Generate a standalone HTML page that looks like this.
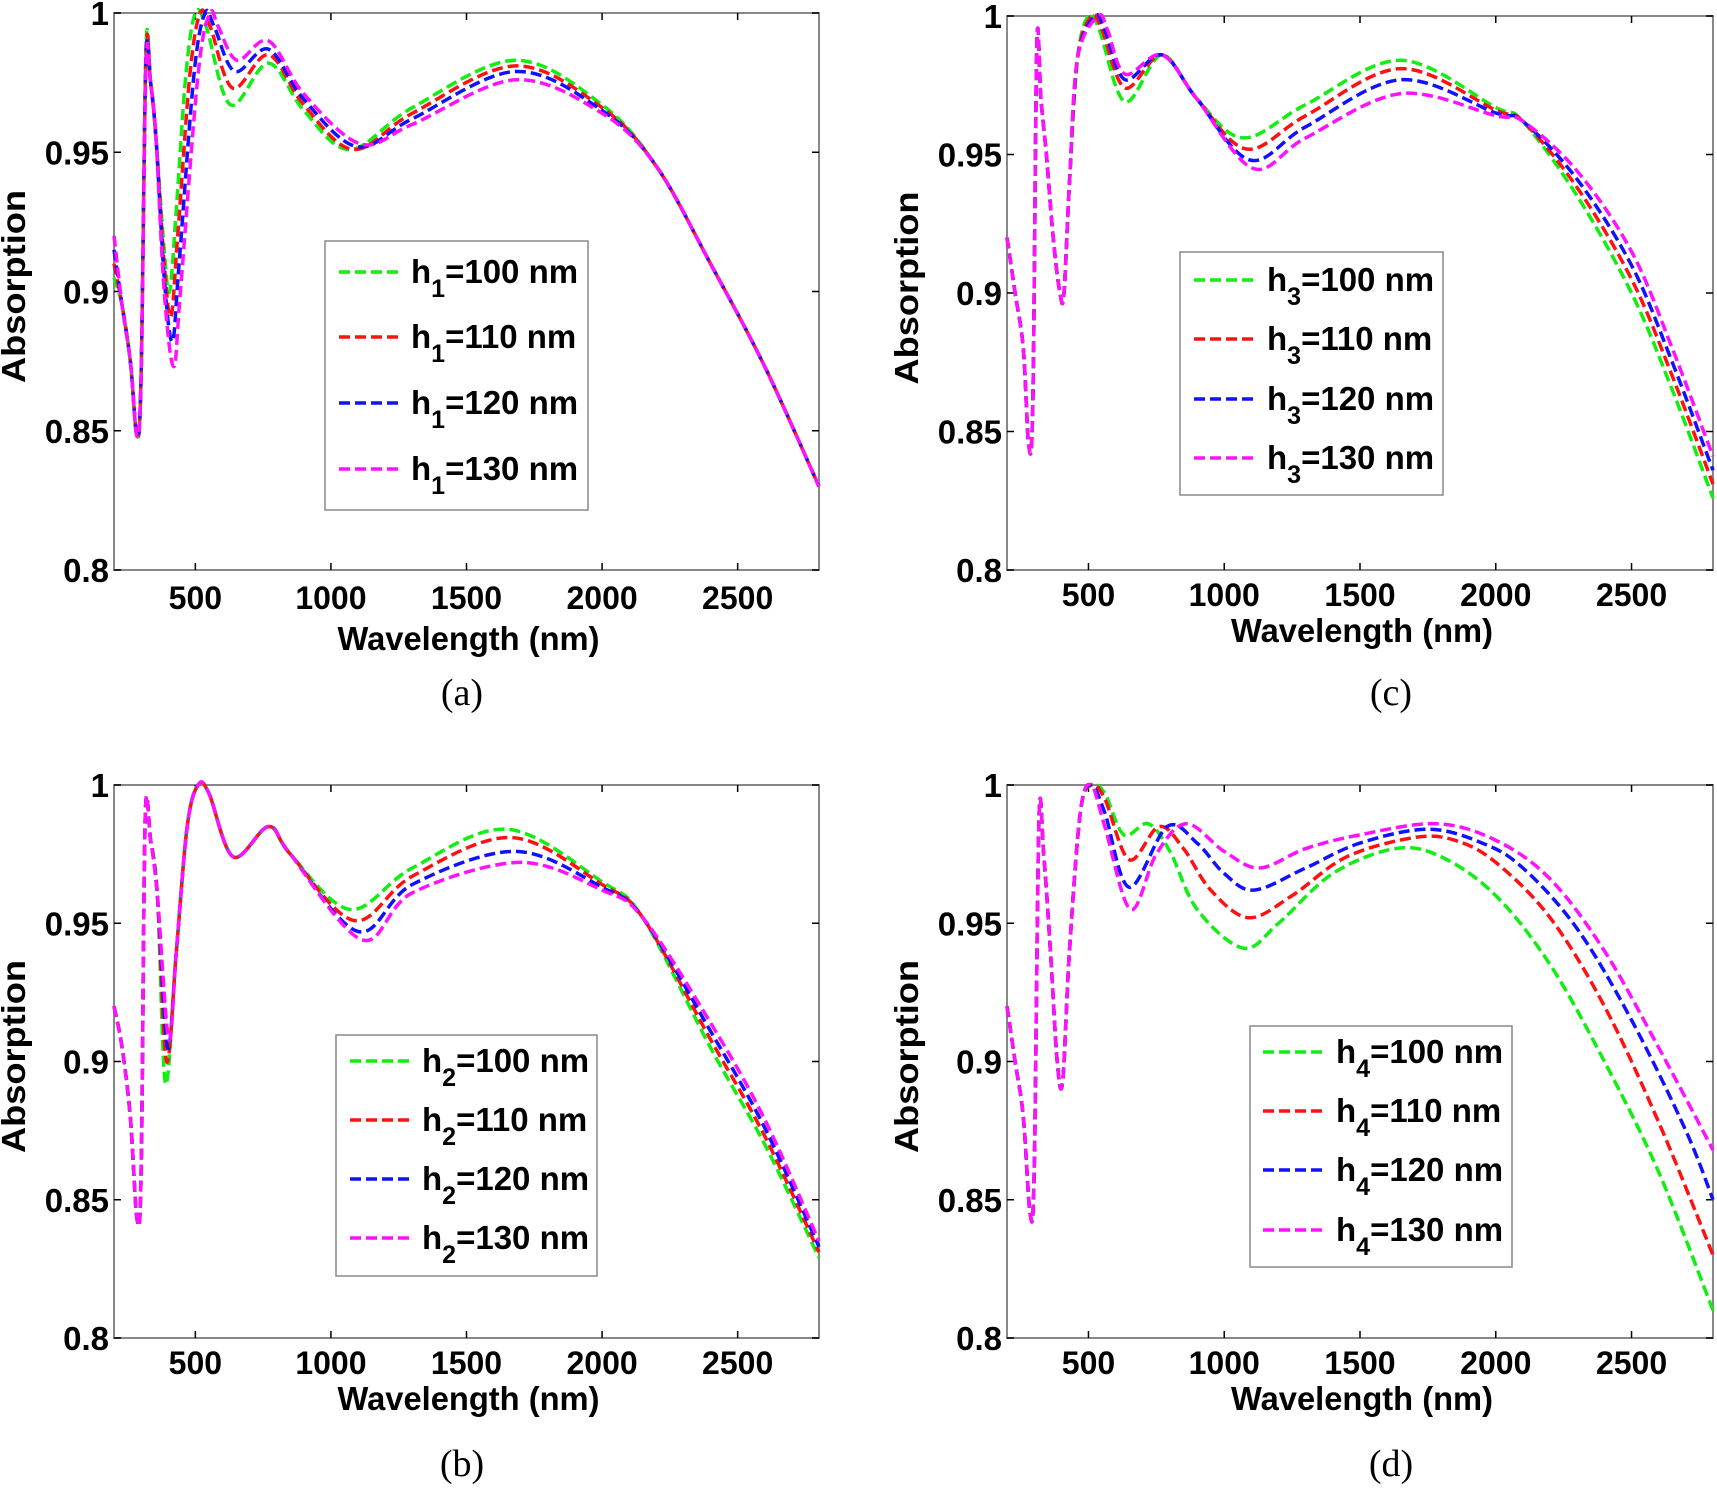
<!DOCTYPE html>
<html><head><meta charset="utf-8"><style>
html,body{margin:0;padding:0;background:#fff}
svg text{font-family:"Liberation Sans",Arial,sans-serif;font-weight:bold;fill:#000}
</style></head><body>
<svg id="s" width="1717" height="1485" viewBox="0 0 1717 1485" xmlns="http://www.w3.org/2000/svg"></svg>
<script>
const S=document.getElementById('s');let out='';
const P={a:[114,13,819,570],c:[1007,16,1713,570],b:[114,785,819,1338],d:[1007,785,1713,1338]};
const cols=['#11ee11','#ff1111','#1111ff','#ff11ff'];
function X(p,w){return p[0]+(w-200)/2600*(p[2]-p[0]);}
function Y(p,a){return p[3]-(a-0.8)/0.2*(p[3]-p[1]);}
function path(p,pts){const q=pts.map(t=>[X(p,t[0]),Y(p,t[1])]);let d='M'+q[0][0].toFixed(1)+','+q[0][1].toFixed(1);
for(let i=0;i<q.length-1;i++){const p0=q[Math.max(0,i-1)],p1=q[i],p2=q[i+1],p3=q[Math.min(q.length-1,i+2)];
const c1=[p1[0]+(p2[0]-p0[0])/6,p1[1]+(p2[1]-p0[1])/6],c2=[p2[0]-(p3[0]-p1[0])/6,p2[1]-(p3[1]-p1[1])/6];
d+='C'+c1[0].toFixed(1)+','+c1[1].toFixed(1)+' '+c2[0].toFixed(1)+','+c2[1].toFixed(1)+' '+p2[0].toFixed(1)+','+p2[1].toFixed(1);}return d;}
function axes(p,key,cap,capx,off,legBox,legY,lineX,textX,sub){
const [l,t,r,b]=p;
out+=`<rect x="${l}" y="${t}" width="${r-l}" height="${b-t}" fill="none" stroke="#888" stroke-width="2"/>`;
[500,1000,1500,2000,2500].forEach(w=>{const x=X(p,w);out+=`<line x1="${x}" y1="${b}" x2="${x}" y2="${b-7}" stroke="#000" stroke-width="1.5"/><line x1="${x}" y1="${t}" x2="${x}" y2="${t+7}" stroke="#000" stroke-width="1.5"/><text x="${x}" y="${b+39-off[0]}" font-size="32" text-anchor="middle">${w}</text>`;});
[[0.8,'0.8'],[0.85,'0.85'],[0.9,'0.9'],[0.95,'0.95'],[1,'1']].forEach(v=>{const y=Y(p,v[0]);out+=`<line x1="${l}" y1="${y}" x2="${l+7}" y2="${y}" stroke="#000" stroke-width="1.5"/><line x1="${r}" y1="${y}" x2="${r-7}" y2="${y}" stroke="#000" stroke-width="1.5"/><text x="${l-5}" y="${y+12}" font-size="33" text-anchor="end">${v[1]}</text>`;});
out+=`<text x="${(l+r)/2+2}" y="${b+80-off[1]}" font-size="33" text-anchor="middle" textLength="262" lengthAdjust="spacingAndGlyphs">Wavelength (nm)</text>`;
out+=`<text transform="translate(${l-89},${(t+b)/2-5}) rotate(-90)" x="0" y="0" font-size="33" text-anchor="middle" textLength="193" lengthAdjust="spacingAndGlyphs">Absorption</text>`;
out+=`<text x="${capx}" y="${cap}" font-size="38" text-anchor="middle" style="font-family:'Liberation Serif',serif;font-weight:normal">(${key})</text>`;
KEY=[key,legBox,legY,lineX,textX,sub];
}
function legend(){const [key,bx,ly,lx,tx,sub]=KEY;
out+=`<rect x="${bx[0]}" y="${bx[1]}" width="${bx[2]-bx[0]}" height="${bx[3]-bx[1]}" fill="#fff" stroke="#888" stroke-width="1.5"/>`;
['100','110','120','130'].forEach((v,i)=>{const y=ly[i];out+=`<line x1="${lx[0]}" y1="${y}" x2="${lx[1]}" y2="${y}" stroke="${cols[i]}" stroke-width="3.5" stroke-dasharray="11,5"/><text x="${tx}" y="${y+11}" font-size="33">h<tspan font-size="25" dy="14">${sub}</tspan><tspan dy="-14">=${v} nm</tspan></text>`;});}
function curves(p,arr){arr.forEach((pts,i)=>{out+=`<path d="${path(p,pts)}" fill="none" stroke="${cols[i]}" stroke-width="3.5" stroke-dasharray="11,5"/>`;});}
let KEY;
let A=[];for(let k=0;k<4;k++){A.push([[200,0.905+0.005*k],[230,0.895],[260,0.875],[285,0.848],[300,0.87],[318,0.988-0.002*k],[335,0.975],[355,0.955],[385,0.915-0.005*k],[405+5*k,0.9-0.009*k],[430+5*k,0.93-0.01*k],[465+15*k,0.978],[500+18*k,1.0],[540+15*k,0.995],[630+8*k,[0.967,0.973,0.979,0.983][k]],[770,[0.982,0.985,0.987,0.99][k]],[900,0.965+0.002*k],[1070+13*k,[0.951,0.951,0.952,0.953][k]],[1300,0.966-0.002*k],[1680,[0.983,0.981,0.979,0.976][k]],[2000,0.967-0.001*k],[2200,0.945],[2400,0.91],[2600,0.873],[2800,0.83]]);}
axes(P.a,'a',705,462,[0,0],[325,241,588,510],[272,337,403,469],[339,403],411,'1');curves(P.a,A);legend();
let C=[];for(let k=0;k<4;k++){C.push([[200,0.92],[230,0.9],[260,0.88],[280,0.845],[295,0.86],[310,0.99],[325,0.97],[345,0.95],[370,0.92],[395,0.9],[410,0.9],[430,0.94],[460,0.985],[500+12*k,1.0],[540+10*k,0.995],[635,[0.969,0.974,0.977,0.979][k]],[770,0.986],[900,0.97],[1070+12*k,[0.956,0.952,0.948,0.945][k]],[1300,0.968-0.004*k],[1650,[0.984,0.981,0.977,0.972][k]],[2000,0.967-0.001*k],[2100,0.962],[2300,0.935+0.003*k],[2500,0.9+0.005*k],[2650,0.865+0.005*k],[2800,0.826+0.005*k]]);}
axes(P.c,'c',705,1391,[3,8],[1180,252,1443,495],[280,339,399,458],[1194,1257],1267,'3');curves(P.c,C);legend();
let B=[];for(let k=0;k<4;k++){B.push([[200,0.92],[230,0.905],[260,0.88],[285,0.843],[300,0.86],[315,0.988],[335,0.98],[360,0.96],[390+4*k,[0.892,0.9,0.905,0.908][k]],[430,0.94],[470,0.985],[510,1.0],[550,0.997],[640,0.974],[770,0.985],[850,0.975],[1070+15*k,[0.955,0.951,0.947,0.944][k]],[1300,0.97-0.003*k],[1650+15*k,[0.984,0.981,0.976,0.972][k]],[2000,0.965-0.001*k],[2150,0.952],[2400,0.905+0.003*k],[2600,0.87+0.003*k],[2800,0.829+0.002*k]]);}
axes(P.b,'b',1476,462,[3,8],[336,1035,597,1276],[1061,1120,1179,1238],[350,414],422,'2');curves(P.b,B);legend();
const pre=[[200,0.92],[230,0.9],[260,0.88],[285,0.845],[300,0.86],[318,0.988],[335,0.975],[360,0.94],[385,0.9],[405,0.893],[430,0.94],[470,0.99],[510,1.0]];
const D=[pre.concat([[560,0.997],[630,0.982],[720,0.986],[800,0.976],[900,0.955],[1070,0.941],[1200,0.95],[1400,0.968],[1630,0.977],[1800,0.974],[2000,0.96],[2200,0.935],[2400,0.9],[2600,0.86],[2800,0.81]]),
pre.concat([[560,0.995],[650,0.973],[760,0.985],[850,0.977],[950,0.962],[1090,0.952],[1250,0.96],[1450,0.974],[1700,0.981],[1850,0.98],[2000,0.972],[2200,0.952],[2400,0.92],[2600,0.878],[2800,0.83]]),
pre.concat([[560,0.99],[650,0.963],[790,0.985],[900,0.979],[1000,0.968],[1110,0.962],[1300,0.97],[1500,0.979],[1750,0.984],[1950,0.979],[2100,0.97],[2300,0.948],[2500,0.915],[2700,0.875],[2800,0.85]]),
pre.concat([[560,0.985],[655,0.955],[750,0.975],[860,0.986],[1000,0.976],[1130,0.97],[1300,0.977],[1500,0.982],[1780,0.986],[2000,0.98],[2200,0.966],[2400,0.94],[2600,0.905],[2800,0.868]])];
axes(P.d,'d',1476,1391,[3,8],[1250,1026,1512,1267],[1052,1111,1170,1230],[1263,1327],1336,'4');curves(P.d,D);legend();
S.innerHTML=out;
</script>
</body></html>
